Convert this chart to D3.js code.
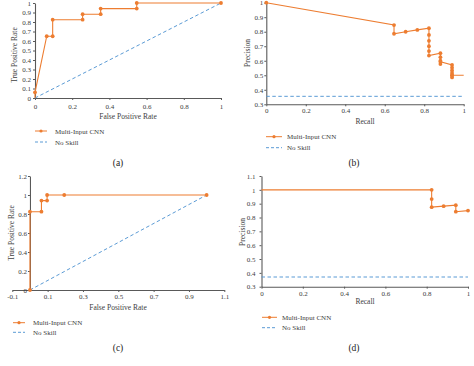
<!DOCTYPE html>
<html><head><meta charset="utf-8">
<script src="https://cdn.jsdelivr.net/npm/d3@7/dist/d3.min.js"></script>
<style>
body{margin:0;background:#fff;}
svg{display:block;font-family:"Liberation Serif","DejaVu Serif",serif;}
text{font-weight:normal;}
</style></head>
<body>
<svg id="c" width="474" height="366"></svg>
<script>
// ---- data ----
const rocA_fpr = [0, 0, 0.063, 0.095, 0.095, 0.256, 0.256, 0.353, 0.353, 0.547, 0.547, 1];
const rocA_tpr = [0, 0.06, 0.65, 0.65, 0.824, 0.824, 0.882, 0.882, 0.941, 0.941, 1, 1];
const prB_recall = [0, 0.647, 0.647, 0.706, 0.765, 0.824, 0.824, 0.824, 0.824, 0.824, 0.824, 0.882, 0.882, 0.882, 0.882, 0.882, 0.941, 0.941, 0.941, 0.941, 0.941, 0.941, 0.941, 1];
const prB_precision = [1, 0.846, 0.786, 0.8, 0.8125, 0.824, 0.778, 0.737, 0.7, 0.667, 0.636, 0.652, 0.625, 0.6, 0.577, 0.593, 0.571, 0.552, 0.533, 0.516, 0.5, 0.485, 0.5, 0.5];
const rocC_fpr = [0, 0, 0.065, 0.065, 0.097, 0.097, 0.194, 1];
const rocC_tpr = [0, 0.824, 0.824, 0.941, 0.941, 1, 1, 1];
const prD_recall = [0, 0.824, 0.824, 0.824, 0.882, 0.941, 0.941, 1];
const prD_precision = [1, 1, 0.933, 0.875, 0.882, 0.889, 0.842, 0.85];
const noSkillB = 0.355;
const noSkillD = 0.37;
const seriesNames = ["Multi-Input CNN", "No Skill"];
const captions = ["(a)", "(b)", "(c)", "(d)"];

const ORANGE = "#ED7D31", BLUE = "#5B9BD5", AXIS = "#595959", TXT = "#404040";
const svg = d3.select("#c");

function panel(cfg){
  const g = svg.append("g");
  const x = d3.scaleLinear().domain(cfg.xd).range(cfg.xr);
  const y = d3.scaleLinear().domain(cfg.yd).range(cfg.yr);
  const y0 = y(cfg.xAxisAt);
  const xa = g.append("g").attr("transform", `translate(0,${y0})`)
    .call(d3.axisBottom(x).tickValues(cfg.xt).tickSize(2).tickSizeOuter(0).tickFormat(cfg.yfmt));
  const yaxG = g.append("g").attr("transform", `translate(${x(cfg.yAxisAt)},0)`)
    .call(d3.axisLeft(y).tickValues(cfg.yt).tickSize(2).tickSizeOuter(0).tickFormat(cfg.yfmt));
  [xa, yaxG].forEach(a=>{
    a.attr("font-family", null);
    a.select(".domain").attr("stroke", AXIS).attr("stroke-width", 1.1);
    a.selectAll(".tick line").attr("stroke", AXIS);
    a.selectAll(".tick text").attr("fill", TXT).attr("font-size", 7).attr("font-family","Liberation Serif");
  });
  xa.selectAll(".tick text").attr("y", cfg.xLabDy);
  yaxG.selectAll(".tick text").attr("x", -cfg.yLabDx);
  g.append("text").attr("x", cfg.xTitle[0]).attr("y", cfg.xTitle[1]).attr("text-anchor","middle")
    .attr("font-size", 7.5).attr("fill", TXT).text(cfg.xLabel);
  g.append("text").attr("transform", `translate(${cfg.yTitle[0]},${cfg.yTitle[1]}) rotate(-90)`)
    .attr("text-anchor","middle").attr("font-size", 7.5).attr("fill", TXT).text(cfg.yLabel);
  if (cfg.diag) {
    g.append("line").attr("x1", x(0)).attr("y1", y(0)).attr("x2", x(1)).attr("y2", y(1))
      .attr("stroke", BLUE).attr("stroke-width", 1).attr("stroke-dasharray", "3.5,2.5");
  } else {
    g.append("line").attr("x1", x(0)).attr("y1", y(cfg.noSkill)).attr("x2", x(1)).attr("y2", y(cfg.noSkill))
      .attr("stroke", BLUE).attr("stroke-width", 1).attr("stroke-dasharray", "3.5,2.5");
  }
  const pts = cfg.xs.map((v,i)=>[v, cfg.ys[i]]);
  g.append("path").datum(pts)
    .attr("d", d3.line().x(d=>x(d[0])).y(d=>y(d[1])))
    .attr("fill","none").attr("stroke", ORANGE).attr("stroke-width", 1.1);
  g.selectAll("circle.m").data(pts.filter((d,i)=>cfg.mark(i, pts.length))).enter().append("circle")
    .attr("cx", d=>x(d[0])).attr("cy", d=>y(d[1])).attr("r", 1.9).attr("fill", ORANGE);
  const L = cfg.legend;
  g.append("line").attr("x1", L.x0).attr("x2", L.x1).attr("y1", L.y1).attr("y2", L.y1)
    .attr("stroke", ORANGE).attr("stroke-width", 1);
  g.append("circle").attr("cx", (L.x0+L.x1)/2).attr("cy", L.y1).attr("r", 1.6).attr("fill", ORANGE);
  g.append("line").attr("x1", L.x0).attr("x2", L.x1).attr("y1", L.y2).attr("y2", L.y2)
    .attr("stroke", BLUE).attr("stroke-width", 1).attr("stroke-dasharray", "3,2");
  g.append("text").attr("x", L.tx).attr("y", L.y1 + 2.5).attr("font-size", 7).attr("fill", TXT).text(seriesNames[0]);
  g.append("text").attr("x", L.tx).attr("y", L.y2 + 2.5).attr("font-size", 7).attr("fill", TXT).text(seriesNames[1]);
  g.append("text").attr("x", cfg.cap[0]).attr("y", cfg.cap[1] + 3.3).attr("text-anchor","middle")
    .attr("font-size", 9.5).attr("fill", "#222").text(cfg.capText);
}

const fmtG = d => String(+d.toFixed(2));

panel({
  xd:[0,1], xr:[35,221], yd:[0,1], yr:[98,3], xAxisAt:0, yAxisAt:0,
  xt:[0,0.2,0.4,0.6,0.8,1], yt:d3.range(0,11).map(i=>i/10), yfmt:fmtG,
  xLabDy:6, yLabDx:4,
  xTitle:[128,118.5], yTitle:[17,55], xLabel:"False Positive Rate", yLabel:"True Positive Rate",
  diag:true, xs:rocA_fpr, ys:rocA_tpr, mark:(i,n)=>i>0,
  legend:{x0:35,x1:47,y1:131,y2:142,tx:55}, cap:[118,163], capText:captions[0]
});
panel({
  xd:[0,1], xr:[266.3,463.7], yd:[0.3,1], yr:[104.3,2.7], xAxisAt:0.3, yAxisAt:0,
  xt:[0,0.2,0.4,0.6,0.8,1], yt:d3.range(3,11).map(i=>i/10), yfmt:fmtG,
  xLabDy:4, yLabDx:3,
  xTitle:[365,124], yTitle:[250,53], xLabel:"Recall", yLabel:"Precision",
  diag:false, noSkill:noSkillB, xs:prB_recall, ys:prB_precision, mark:(i,n)=>i<n-1,
  legend:{x0:266,x1:282,y1:136.7,y2:147.7,tx:287}, cap:[354,162.7], capText:captions[1]
});
panel({
  xd:[-0.1,1.1], xr:[12.3,224.3], yd:[0,1.2], yr:[290,176], xAxisAt:0, yAxisAt:0,
  xt:[-0.1,0.1,0.3,0.5,0.7,0.9,1.1], yt:d3.range(0,7).map(i=>i/5), yfmt:fmtG,
  xLabDy:4, yLabDx:3,
  xTitle:[118,310], yTitle:[14,233], xLabel:"False Positive Rate", yLabel:"True Positive Rate",
  diag:true, xs:rocC_fpr, ys:rocC_tpr, mark:(i,n)=>true,
  legend:{x0:13,x1:25,y1:322.7,y2:332.3,tx:33}, cap:[118,347.7], capText:captions[2]
});
panel({
  xd:[0,1], xr:[261.5,468], yd:[0.3,1.1], yr:[286.7,176], xAxisAt:0.3, yAxisAt:0,
  xt:[0,0.2,0.4,0.6,0.8,1], yt:d3.range(3,12).map(i=>i/10), yfmt:fmtG,
  xLabDy:4, yLabDx:6,
  xTitle:[365,303.5], yTitle:[245,232], xLabel:"Recall", yLabel:"Precision",
  diag:false, noSkill:noSkillD, xs:prD_recall, ys:prD_precision, mark:(i,n)=>i>0,
  legend:{x0:262,x1:277,y1:317.3,y2:327.7,tx:282}, cap:[354,348], capText:captions[3]
});
</script>
</body></html>
